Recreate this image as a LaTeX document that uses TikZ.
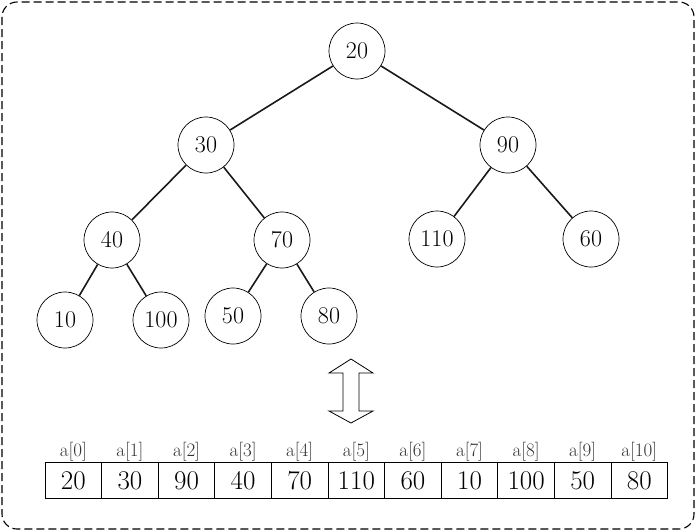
\documentclass[tikz,border=0pt]{standalone}
\usepackage{fontspec}
\usepackage{tikz}
\usetikzlibrary{positioning}
\begin{document}
\begin{tikzpicture}[x=1pt, y=-1pt]
    \tikzstyle{vertex} = [circle, draw, line width=0.7pt, minimum size=56pt, inner sep=0pt, font=\fontsize{24}{28}\selectfont]
    \tikzstyle{edge} = [line width=1.6pt, draw=black!90]
    \tikzstyle{cell} = [rectangle, draw, line width=0.8pt, minimum width=56.6pt, minimum height=36.5pt, inner sep=0pt, outer sep=0pt, font=\fontsize{27}{30}\selectfont]
    \tikzstyle{idx} = [inner sep=0pt, font=\fontsize{19}{21}\selectfont, text=black!80]
    \tikzstyle{frame} = [dash pattern=on 8pt off 4pt, rounded corners=15pt, line width=1.1pt]

    \useasboundingbox (0,0) rectangle (696,531);
    \draw [frame] (2,2) rectangle (694,529);

    % heap as a tree
    \node (n20) [vertex] at (357,51) {20};
    \node (n30) [vertex] at (206,145) {30};
    \node (n90) [vertex] at (508,145) {90};
    \node (n40) [vertex] at (112,240) {40};
    \node (n70) [vertex] at (282,240) {70};
    \node (n110) [vertex] at (437,239) {110};
    \node (n60) [vertex] at (591,239) {60};
    \node (n10) [vertex] at (65,320) {10};
    \node (n100) [vertex] at (161,320) {100};
    \node (n50) [vertex] at (233,316) {50};
    \node (n80) [vertex] at (329,316) {80};

    \draw [edge] (n20) -- (n30);
    \draw [edge] (n20) -- (n90);
    \draw [edge] (n30) -- (n40);
    \draw [edge] (n30) -- (n70);
    \draw [edge] (n90) -- (n110);
    \draw [edge] (n90) -- (n60);
    \draw [edge] (n40) -- (n10);
    \draw [edge] (n40) -- (n100);
    \draw [edge] (n70) -- (n50);
    \draw [edge] (n70) -- (n80);

    % two-way arrow
    \draw [line width=0.8pt] (351,359) -- (373,373) -- (359,373) -- (359,411) -- (373,411) -- (351,423)
        -- (329,411) -- (343,411) -- (343,373) -- (329,373) -- cycle;

    % heap as an array
    \node (a0) [cell] at (73.3,480.5) {20};
    \node (a1) [cell, right=0pt of a0] {30};
    \node (a2) [cell, right=0pt of a1] {90};
    \node (a3) [cell, right=0pt of a2] {40};
    \node (a4) [cell, right=0pt of a3] {70};
    \node (a5) [cell, right=0pt of a4] {110};
    \node (a6) [cell, right=0pt of a5] {60};
    \node (a7) [cell, right=0pt of a6] {10};
    \node (a8) [cell, right=0pt of a7] {100};
    \node (a9) [cell, right=0pt of a8] {50};
    \node (a10) [cell, right=0pt of a9] {80};

    \node (l0) [idx, above=1pt of a0] {a[0]};
    \node (l1) [idx, above=1pt of a1] {a[1]};
    \node (l2) [idx, above=1pt of a2] {a[2]};
    \node (l3) [idx, above=1pt of a3] {a[3]};
    \node (l4) [idx, above=1pt of a4] {a[4]};
    \node (l5) [idx, above=1pt of a5] {a[5]};
    \node (l6) [idx, above=1pt of a6] {a[6]};
    \node (l7) [idx, above=1pt of a7] {a[7]};
    \node (l8) [idx, above=1pt of a8] {a[8]};
    \node (l9) [idx, above=1pt of a9] {a[9]};
    \node (l10) [idx, above=1pt of a10] {a[10]};
\end{tikzpicture}
\end{document}
